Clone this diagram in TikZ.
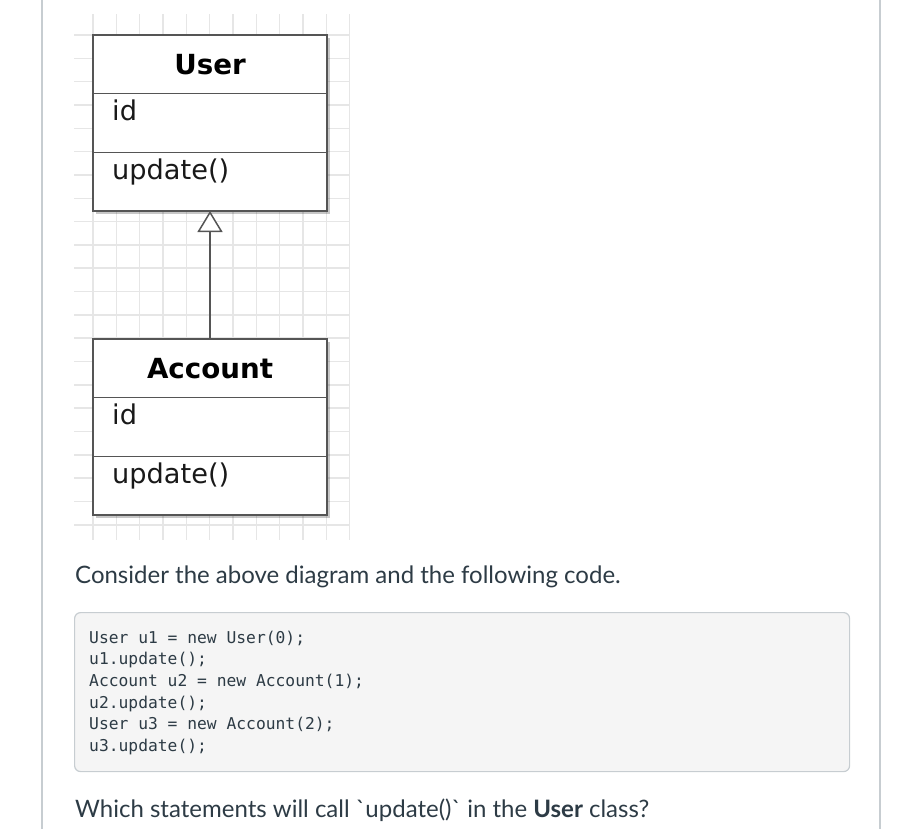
\documentclass[tikz,border=0pt]{standalone}
\usepackage{fontspec}
\newfontfamily\umlfont{DejaVu Sans}
\newfontfamily\bodyfont{Lato}
\newfontfamily\codefont{DejaVu Sans Mono}
\usetikzlibrary{arrows.meta, positioning, shadows}

\definecolor{gridgray}{HTML}{E6E6E6}
\definecolor{umlline}{HTML}{555555}
\definecolor{canvastext}{HTML}{2D3B45}
\definecolor{codefill}{HTML}{F5F5F5}
\definecolor{codeedge}{HTML}{C7CDD1}
\definecolor{pageedge}{HTML}{C7CDD1}

\begin{document}
\begin{tikzpicture}[x=1pt, y=-1pt, >=Stealth,
  gridline/.style={draw=gridgray, line width=1.6pt},
  umlpart/.style={draw=umlline, line width=1.5pt, fill=white,
    minimum width=234pt, minimum height=58.67pt, inner sep=0pt, outer sep=0pt,
    drop shadow={shadow xshift=3pt, shadow yshift=-3pt, opacity=.22, fill=black}},
  umlname/.style={umlpart, font={\umlfont\bfseries\fontsize{27.7pt}{32pt}\selectfont}},
  umlmember/.style={anchor=base west, inner sep=0pt, text=black!90,
    font={\umlfont\fontsize{27.2pt}{32pt}\selectfont}},
  bodytext/.style={anchor=base west, inner sep=0pt, text=canvastext,
    font={\bodyfont\fontsize{24pt}{29pt}\selectfont}},
  codebox/.style={draw=codeedge, fill=codefill, line width=1.2pt, rounded corners=6pt,
    minimum width=775pt, minimum height=159pt, inner sep=0pt},
  codeline/.style={anchor=base west, inner sep=0pt, text=canvastext,
    font={\codefont\fontsize{16.3pt}{21.7pt}\selectfont}},
  inherit/.style={draw=umlline, line width=1.5pt,
    -{Triangle[length=21pt, width=25pt, fill=white]}}
]
\useasboundingbox (0,0) rectangle (898,829);

% Page frame
\draw[pageedge, line width=1.3pt] (42,0) -- (42,829);
\draw[pageedge, line width=1.3pt] (880,0) -- (880,829);

% Grid behind the diagram
\begin{scope}
  \clip (74,14) rectangle (350,540);
  \foreach \k in {0,...,11}
    \draw[gridline] ({93+23.33*\k},14) -- ({93+23.33*\k},540);
  \foreach \k in {0,...,22}
    \draw[gridline] (74,{35+23.33*\k}) -- (350,{35+23.33*\k});
\end{scope}

% Class User
\node[umlname] (userName) at (210,64.33) {User};
\node[umlpart, below=0pt of userName] (userAttr) {};
\node[umlpart, below=0pt of userAttr] (userOps) {};
\node[umlmember] (userId) at ([xshift=19pt, yshift=-27pt]userAttr.north west) {id};
\node[umlmember] (userUpdate) at ([xshift=19pt, yshift=-27.5pt]userOps.north west) {update()};

% Class Account
\node[umlname] (accName) at (210,368.33) {Account};
\node[umlpart, below=0pt of accName] (accAttr) {};
\node[umlpart, below=0pt of accAttr] (accOps) {};
\node[umlmember] (accId) at ([xshift=19pt, yshift=-27pt]accAttr.north west) {id};
\node[umlmember] (accUpdate) at ([xshift=19pt, yshift=-27.5pt]accOps.north west) {update()};

% Generalization
\draw[inherit] (accName.north) -- (userOps.south);

% Question text
\node[bodytext] (consider) at (75,583) {Consider the above diagram and the following code.};

% Code sample
\node[codebox, anchor=north west] (codeBg) at (74,612) {};
\foreach \codetext [count=\i] in {{User u1 = new User(0);}, {u1.update();},
    {Account u2 = new Account(1);}, {u2.update();},
    {User u3 = new Account(2);}, {u3.update();}}
  \node[codeline] (code\i) at (89,{643+21.7*(\i-1)}) {\codetext};

\node[bodytext] (question) at (75,817) {Which statements will call `update()` in the \textbf{User} class?};

\end{tikzpicture}
\end{document}
